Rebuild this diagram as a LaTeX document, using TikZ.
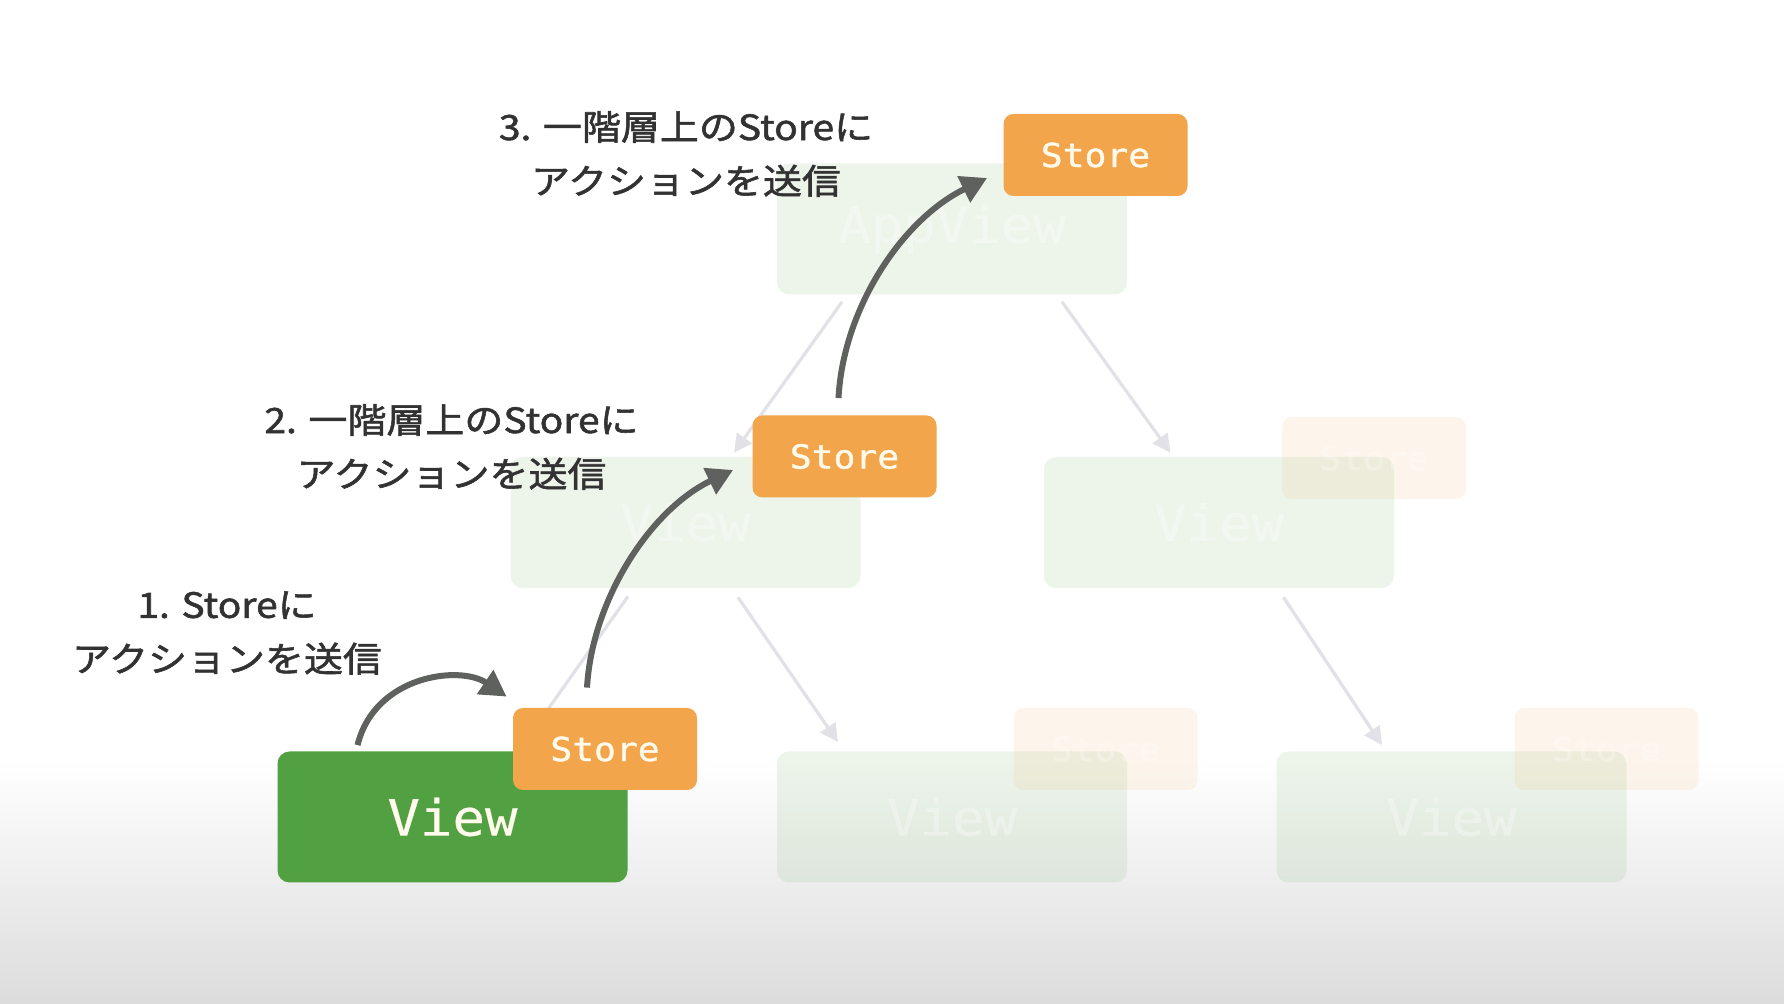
\documentclass[tikz,border=0pt]{standalone}
\usepackage{fontspec}
\usetikzlibrary{arrows.meta,calc}
\newfontfamily\jpf[FakeStretch=1.12,FakeBold=1.6]{Noto Sans CJK JP}
\newfontfamily\mnf[FakeStretch=1.08,FakeBold=0.4]{DejaVu Sans Mono}
\newfontfamily\mnbf[FakeStretch=1.1,FakeBold=1.2]{DejaVu Sans Mono}
\definecolor{viewgreen}{RGB}{81,160,66}
\definecolor{storeorange}{RGB}{242,165,74}
\definecolor{storetext}{RGB}{255,250,235}
\definecolor{arrowgray}{RGB}{94,97,94}
\definecolor{notegray}{RGB}{50,50,50}
\definecolor{faintgray}{RGB}{226,225,231}
\definecolor{bggray}{RGB}{220,220,220}
\begin{document}
\begin{tikzpicture}[x=0.5pt,y=-0.5pt,
  viewbox/.style={rectangle,rounded corners=6pt,fill=viewgreen,minimum width=175pt,minimum height=65.5pt,inner sep=0pt,text=storetext,font=\mnf\fontsize{25}{30}\selectfont},
  fadedview/.style={viewbox,fill opacity=0.1,text=white,text opacity=0.3},
  storebox/.style={rectangle,rounded corners=5pt,fill=storeorange,minimum width=92pt,minimum height=41pt,inner sep=0pt,text=storetext,font=\mnbf\fontsize{16.5}{20}\selectfont},
  fadedstore/.style={storebox,fill opacity=0.1,text=white,text opacity=0.25},
  action/.style={draw=arrowgray,line width=3pt,-{Triangle[length=13pt,width=14pt]}},
  faint/.style={draw=faintgray,line width=1.6pt,-{Triangle[length=9pt,width=9pt]}},
  note/.style={align=center,text=notegray,inner sep=0pt,font=\jpf\fontsize{17.4}{27}\selectfont}]
\useasboundingbox (0,0) rectangle (1784,1004);
\fill[white] (0,0) rectangle (1784,1004);
\shade[top color=white,bottom color=bggray] (0,760) rectangle (1784,1004);

% faded tree
\node[fadedview] (appview) at (952,229) {AppView};
\node[fadedview] (viewL) at (685.5,522.5) {View};
\node[fadedview] (viewR) at (1219,522.5) {View};
\node[fadedview] (viewBM) at (952,817) {View};
\node[fadedview] (viewBR) at (1451.5,817) {View};
\node[fadedstore] (storeR) at (1374,458) {Store};
\node[fadedstore] (storeBM) at (1105.5,749) {Store};
\node[fadedstore] (storeBR) at (1606.5,749) {Store};

\draw[faint] ([shift={(-110,7)}]appview.south) -- ([shift={(48.5,-4)}]viewL.north);
\draw[faint] ([shift={(110,7)}]appview.south) -- ([shift={(-48.5,-4)}]viewR.north);
\draw[faint] ([shift={(52.5,9)}]viewL.south) -- ([shift={(-114,-9)}]viewBM.north);
\draw[faint] ([shift={(64.5,9)}]viewR.south) -- ([shift={(-69.5,-6)}]viewBR.north);

% active elements
\node[viewbox] (viewB) at (452.5,817) {View};
\draw[faint] ([shift={(-57.5,8)}]viewL.south) -- ([shift={(70,-6)}]viewB.north);
\node[storebox] (storeB) at (605,749) {Store};
\node[storebox] (storeM) at (844.5,456.5) {Store};
\node[storebox] (storeTop) at (1095.5,155) {Store};

\draw[action] ([shift={(-95,-6)}]viewB.north) .. controls (375,675) and (460,665) .. ([shift={(-6,-11)}]storeB.north west);
\draw[action] ([shift={(-18,-20)}]storeB.north) .. controls (592,600) and (650,510) .. ([shift={(-19,13.5)}]storeM.west);
\draw[action] ([shift={(-6,-17)}]storeM.north) .. controls (843,310) and (901,220) .. ([shift={(-16,23)}]storeTop.west);

\node[note] (t3) at (686,154) {3. 一階層上のStoreに\\アクションを送信};
\node[note] (t2) at (451.5,447) {2. 一階層上のStoreに\\アクションを送信};
\node[note] (t1) at (227,633) {1. Storeに\\アクションを送信};
\end{tikzpicture}
\end{document}
